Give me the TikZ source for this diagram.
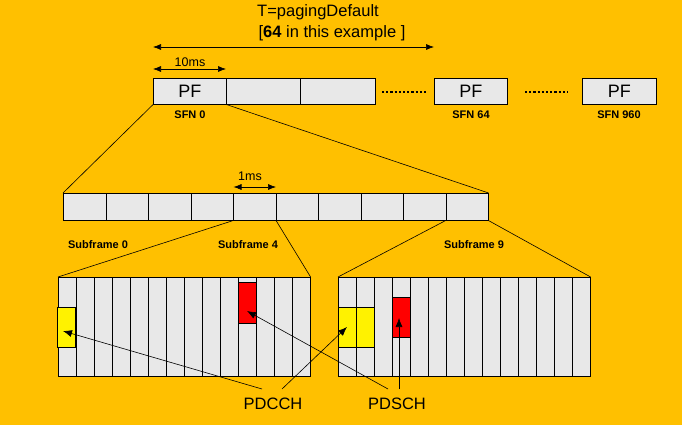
\documentclass[tikz,border=0pt]{standalone}
\usepackage{fontspec}
\setmainfont{Liberation Sans}
\begin{document}
\begin{tikzpicture}[x=1pt,y=-1pt,
  cell/.style={draw=black,fill=gray!18,line width=0.6pt},
  lbl/.style={font=\bfseries\fontsize{11}{13}\selectfont},
  big/.style={font=\fontsize{16.5}{19}\selectfont},
  ln/.style={line width=0.6pt},
  arr/.style={-{Latex[length=9pt,width=7pt]},line width=0.6pt}]
\usetikzlibrary{arrows.meta}
\fill[fill={rgb,255:red,255;green,192;blue,0}] (0,0) rectangle (682,425);
\useasboundingbox (0,0) rectangle (682,425);
% top row
\foreach \n/\a/\b/\t in {f0/153/226/PF,f1/226/300/,f2/300/375/,f64/434/507/PF,f960/582/656/PF}
  \node[cell,minimum width=\b-\a,minimum height=26,inner sep=0,big,font=\fontsize{18}{20}\selectfont,anchor=north west] (\n) at (\a,78) {\t};
\draw[dotted,line width=2.2pt] (382,92) -- (428,92);
\draw[dotted,line width=2.2pt] (525,92) -- (568,92);
\node[lbl] (s0) at (190,115) {SFN 0};
\node[lbl] (s64) at (471,115) {SFN 64};
\node[lbl] (s960) at (619,115) {SFN 960};
\coordinate (ta) at (153,47); \coordinate (tb) at (434,47);
\draw[{Latex[length=8pt,width=6pt]}-{Latex[length=8pt,width=6pt]},ln] (ta) -- (tb);
\node[big] (t1) at (318,12) {T=pagingDefault};
\node[big] (t2) at (332,33) {[\textbf{64} in this example ]};
\coordinate (ma) at (153,69); \coordinate (mb) at (226,69);
\draw[{Latex[length=8pt,width=6pt]}-{Latex[length=8pt,width=6pt]},ln] (ma) -- (mb);
\node[font=\fontsize{12.5}{14}\selectfont] (ms10) at (190,62) {10ms};
% subframes
\foreach \i in {0,...,9}
  \node[cell,minimum width=42.5,minimum height=27,inner sep=0,anchor=north west] (sf\i) at (63+42.5*\i,193) {};
\coordinate (oa) at (233.5,187); \coordinate (ob) at (276,187);
\draw[{Latex[length=8pt,width=6pt]}-{Latex[length=8pt,width=6pt]},ln] (oa) -- (ob);
\node[font=\fontsize{12.5}{14}\selectfont] (ms1) at (250,176) {1ms};
\draw[ln] (f0.south west) -- (sf0.north west);
\draw[ln] (f0.south east) -- (sf9.north east);
\node[lbl] (l0) at (98,245) {Subframe 0};
\node[lbl] (l4) at (248,245) {Subframe 4};
\node[lbl] (l9) at (474,245) {Subframe 9};
% symbol blocks
\foreach \i in {0,...,13}{
  \node[cell,minimum width=18,minimum height=99,inner sep=0,anchor=north west] (a\i) at (58+18*\i,277) {};
  \node[cell,minimum width=18,minimum height=99,inner sep=0,anchor=north west] (b\i) at (338+18*\i,277) {};}
\draw[ln] (sf4.south west) -- (a0.north west);
\draw[ln] (sf4.south east) -- (a13.north east);
\draw[ln] (sf9.south west) -- (b0.north west);
\draw[ln] (sf9.south east) -- (b13.north east);
\node[draw,fill=yellow,minimum width=18,minimum height=40,inner sep=0,anchor=north west] (y0) at (57,307) {};
\node[draw,fill=yellow,minimum width=18,minimum height=40,inner sep=0,anchor=north west] (y1) at (338,307) {};
\node[draw,fill=yellow,minimum width=18,minimum height=40,inner sep=0,anchor=north west] (y2) at (356,307) {};
\node[draw,fill=red,minimum width=18,minimum height=41,inner sep=0,anchor=north west] (r0) at (238,282) {};
\node[draw,fill=red,minimum width=18,minimum height=40,inner sep=0,anchor=north west] (r1) at (392,297) {};
% labels and arrows
\node[big] (pdcch) at (273,404) {PDCCH};
\node[big] (pdsch) at (397,404) {PDSCH};
\coordinate (c1) at (262,389); \coordinate (c2) at (282,389);
\coordinate (d1) at (388,389); \coordinate (d2) at (399,389);
\draw[arr] (c1) -- (63,331);
\draw[arr] (c2) -- (347,327);
\draw[arr] (d1) -- (247,311);
\draw[arr] (d2) -- (399,318);
\end{tikzpicture}
\end{document}
